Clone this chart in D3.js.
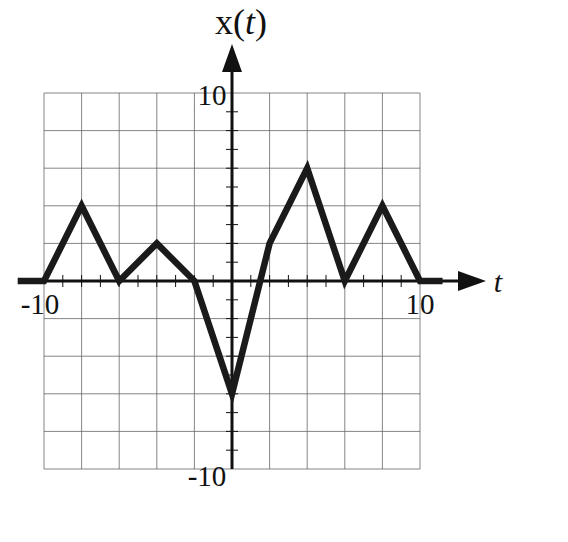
<!DOCTYPE html>
<html><head><meta charset="utf-8">
<script src="https://cdn.jsdelivr.net/npm/d3@7"></script>
<style>body{margin:0;background:#fff} text{font-family:'Liberation Serif','Times New Roman',Times,serif}</style></head>
<body><svg id="c" width="568" height="542"></svg>
<script>
const tVals = [-11.4, -10, -8, -6, -4, -2, 0, 2, 4, 6, 8, 10, 11.2];
const xVals = [0, 0, 4, 0, 2, 0, -6, 2, 6, 0, 4, 0, 0];
const gridTicks = d3.range(-10, 10.01, 2);
const svg = d3.select("#c");
const x = d3.scaleLinear().domain([-10, 10]).range([44, 420]);
const y = d3.scaleLinear().domain([-10, 10]).range([469, 93]);
const g = svg.append("g");
gridTicks.forEach(v => {
  g.append("line").attr("x1", x(v)).attr("x2", x(v)).attr("y1", y(-10)).attr("y2", y(10)).attr("stroke", "#666").attr("stroke-width", 0.8);
  g.append("line").attr("y1", y(v)).attr("y2", y(v)).attr("x1", x(-10)).attr("x2", x(10)).attr("stroke", "#666").attr("stroke-width", 0.8);
});
g.append("line").attr("x1", x(0)).attr("x2", x(0)).attr("y1", y(-10)).attr("y2", 60).attr("stroke", "#111").attr("stroke-width", 3);
g.append("line").attr("x1", 18).attr("x2", 470).attr("y1", y(0)).attr("y2", y(0)).attr("stroke", "#111").attr("stroke-width", 3);
g.append("path").attr("d", `M${x(0)},44 L${x(0)-10},72 L${x(0)+10},72 Z`).attr("fill", "#111");
g.append("path").attr("d", `M486,${y(0)} L458,${y(0)-10} L458,${y(0)+10} Z`).attr("fill", "#111");
d3.range(-9, 10, 1).forEach(v => {
  g.append("line").attr("x1", x(v)).attr("x2", x(v)).attr("y1", y(0)-6).attr("y2", y(0)+6).attr("stroke", "#111").attr("stroke-width", 1);
  g.append("line").attr("y1", y(v)).attr("y2", y(v)).attr("x1", x(0)-6).attr("x2", x(0)+6).attr("stroke", "#111").attr("stroke-width", 1);
});
const line = d3.line().x((d, i) => x(tVals[i])).y(d => y(d));
g.append("path").datum(xVals).attr("d", line).attr("fill", "none").attr("stroke", "#1a1a1a").attr("stroke-width", 6.5).attr("stroke-linejoin", "miter");
const txt = (s, px, py, size, anchor, italic) => g.append("text").attr("x", px).attr("y", py).attr("font-size", size).attr("text-anchor", anchor).attr("font-style", italic ? "italic" : "normal").attr("fill", "#111").text(s);
const lab = g.append("text").attr("x", 241).attr("y", 34).attr("font-size", 36).attr("text-anchor", "middle").attr("fill", "#111");
lab.append("tspan").text("x(");
lab.append("tspan").attr("font-style", "italic").text("t");
lab.append("tspan").text(")");
txt("10", 212, 105, 29, "middle");
txt("-10", 40, 314, 29, "middle");
txt("10", 420, 314, 29, "middle");
txt("-10", 207, 486, 29, "middle");
txt("t", 498, 292, 30, "middle", true);
</script></body></html>
